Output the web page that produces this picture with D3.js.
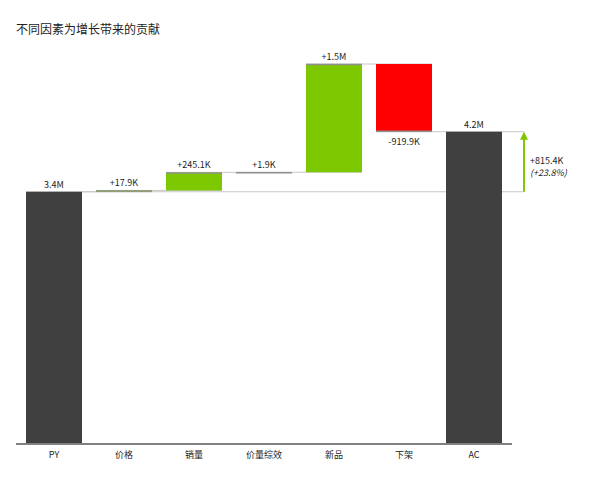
<!DOCTYPE html>
<html>
<head>
<meta charset="utf-8">
<script src="https://cdn.jsdelivr.net/npm/d3@7"></script>
<style>
  body { margin: 0; background: #fff; }
  svg { font-family: "Segoe UI", "Noto Sans CJK SC", "Noto Sans", sans-serif; }
</style>
</head>
<body>
<div id="chart"></div>
<script>
  // chart data
  var categories = ["PY", "价格", "销量", "价量综效", "新品", "下架", "AC"];
  var deltas = [17.9, 245.1, 1.9, 1470.4, -919.9]; // thousands
  var startValue = 3426.0; // PY, thousands
  var labels = ["3.4M", "+17.9K", "+245.1K", "+1.9K", "+1.5M", "-919.9K", "4.2M"];
  var diffLabels = ["+815.4K", "(+23.8%)"];

  var width = 589, height = 490;
  var margin = {top: 64, left: 19, bottom: 46};

  var svg = d3.select("#chart").append("svg")
      .attr("width", width)
      .attr("height", height);

  svg.append("text")
      .attr("x", 16)
      .attr("y", 34)
      .attr("font-size", 12)
      .attr("fill", "#222")
      .text("不同因素为增长带来的贡献");

  // build waterfall rows
  var rows = [];
  var run = startValue;
  rows.push({name: categories[0], from: 0, to: startValue, type: "total"});
  deltas.forEach(function(d, i) {
    rows.push({name: categories[i + 1], from: run, to: run + d, type: d >= 0 ? "up" : "down", delta: d});
    run += d;
  });
  rows.push({name: categories[categories.length - 1], from: 0, to: run, type: "total"});
  rows.forEach(function(r, i) { r.label = labels[i]; });

  var maxVal = d3.max(rows, function(r) { return Math.max(r.from, r.to); });

  var x = d3.scaleBand()
      .domain(categories)
      .range([margin.left, margin.left + 70 * categories.length])
      .paddingInner(0.2)
      .paddingOuter(0.1);

  var y = d3.scaleLinear()
      .domain([0, maxVal])
      .range([height - margin.bottom, margin.top]);

  var bw = x.bandwidth();
  var arrowX = x(categories[categories.length - 1]) + bw + 22;

  // reference lines for PY and AC
  var py = rows[0], ac = rows[rows.length - 1];
  svg.append("line")
      .attr("x1", x(py.name) + bw).attr("x2", arrowX)
      .attr("y1", y(py.to)).attr("y2", y(py.to))
      .attr("stroke", "#c8c8c8").attr("stroke-width", 1);
  svg.append("line")
      .attr("x1", x(ac.name) + bw).attr("x2", arrowX)
      .attr("y1", y(ac.to)).attr("y2", y(ac.to))
      .attr("stroke", "#c8c8c8").attr("stroke-width", 1);

  // connectors between bars
  for (var i = 0; i < rows.length - 1; i++) {
    svg.append("line")
        .attr("x1", x(rows[i].name))
        .attr("x2", x(rows[i + 1].name) + bw)
        .attr("y1", y(rows[i].to)).attr("y2", y(rows[i].to))
        .attr("stroke", "#c8c8c8").attr("stroke-width", 1);
  }

  var colors = {total: "#404040", up: "#7dc800", down: "#ff0000"};

  svg.selectAll("rect.bar")
      .data(rows)
      .enter().append("rect")
      .attr("class", "bar")
      .attr("x", function(d) { return x(d.name); })
      .attr("width", bw)
      .attr("y", function(d) { return y(Math.max(d.from, d.to)); })
      .attr("height", function(d) { return Math.abs(y(d.from) - y(d.to)); })
      .attr("fill", function(d) { return colors[d.type]; });

  // edge line at the end of each delta bar
  svg.selectAll("line.edge")
      .data(rows.filter(function(d) { return d.type !== "total"; }))
      .enter().append("line")
      .attr("class", "edge")
      .attr("x1", function(d) { return x(d.name); })
      .attr("x2", function(d) { return x(d.name) + bw; })
      .attr("y1", function(d) { return y(d.to) + (d.type === "up" ? 0.5 : -0.5); })
      .attr("y2", function(d) { return y(d.to) + (d.type === "up" ? 0.5 : -0.5); })
      .attr("stroke", "#909090").attr("stroke-width", 1.5);

  // value labels
  svg.selectAll("text.val")
      .data(rows)
      .enter().append("text")
      .attr("class", "val")
      .attr("x", function(d) { return x(d.name) + bw / 2; })
      .attr("y", function(d) {
        return d.type === "down" ? y(d.to) + 13 : y(Math.max(d.from, d.to)) - 4;
      })
      .attr("text-anchor", "middle")
      .attr("font-size", 9)
      .attr("fill", "#222")
      .text(function(d) { return d.label; });

  // x axis
  var axis = svg.append("g")
      .attr("transform", "translate(0," + y(0) + ")")
      .call(d3.axisBottom(x).tickSize(0).tickPadding(8));
  axis.select(".domain")
      .attr("d", "M16,0H" + (x.range()[1] + 3))
      .attr("stroke", "#808080").attr("stroke-width", 2);
  axis.selectAll("text")
      .attr("font-size", 9)
      .attr("fill", "#222")
      .attr("font-family", "'Noto Sans CJK SC', sans-serif");

  // difference arrow
  svg.append("line")
      .attr("x1", arrowX).attr("x2", arrowX)
      .attr("y1", y(py.to)).attr("y2", y(ac.to) + 7)
      .attr("stroke", "#7dc800").attr("stroke-width", 2);
  svg.append("path")
      .attr("d", "M" + (arrowX - 4) + "," + (y(ac.to) + 8) +
                 "L" + arrowX + "," + y(ac.to) +
                 "L" + (arrowX + 4) + "," + (y(ac.to) + 8) + "Z")
      .attr("fill", "#7dc800");

  var midY = (y(py.to) + y(ac.to)) / 2;
  svg.append("text")
      .attr("x", arrowX + 6).attr("y", midY + 2)
      .attr("font-size", 9).attr("fill", "#222")
      .text(diffLabels[0]);
  svg.append("text")
      .attr("x", arrowX + 6).attr("y", midY + 14)
      .attr("font-size", 9).attr("font-style", "italic").attr("fill", "#222")
      .text(diffLabels[1]);
</script>
</body>
</html>
